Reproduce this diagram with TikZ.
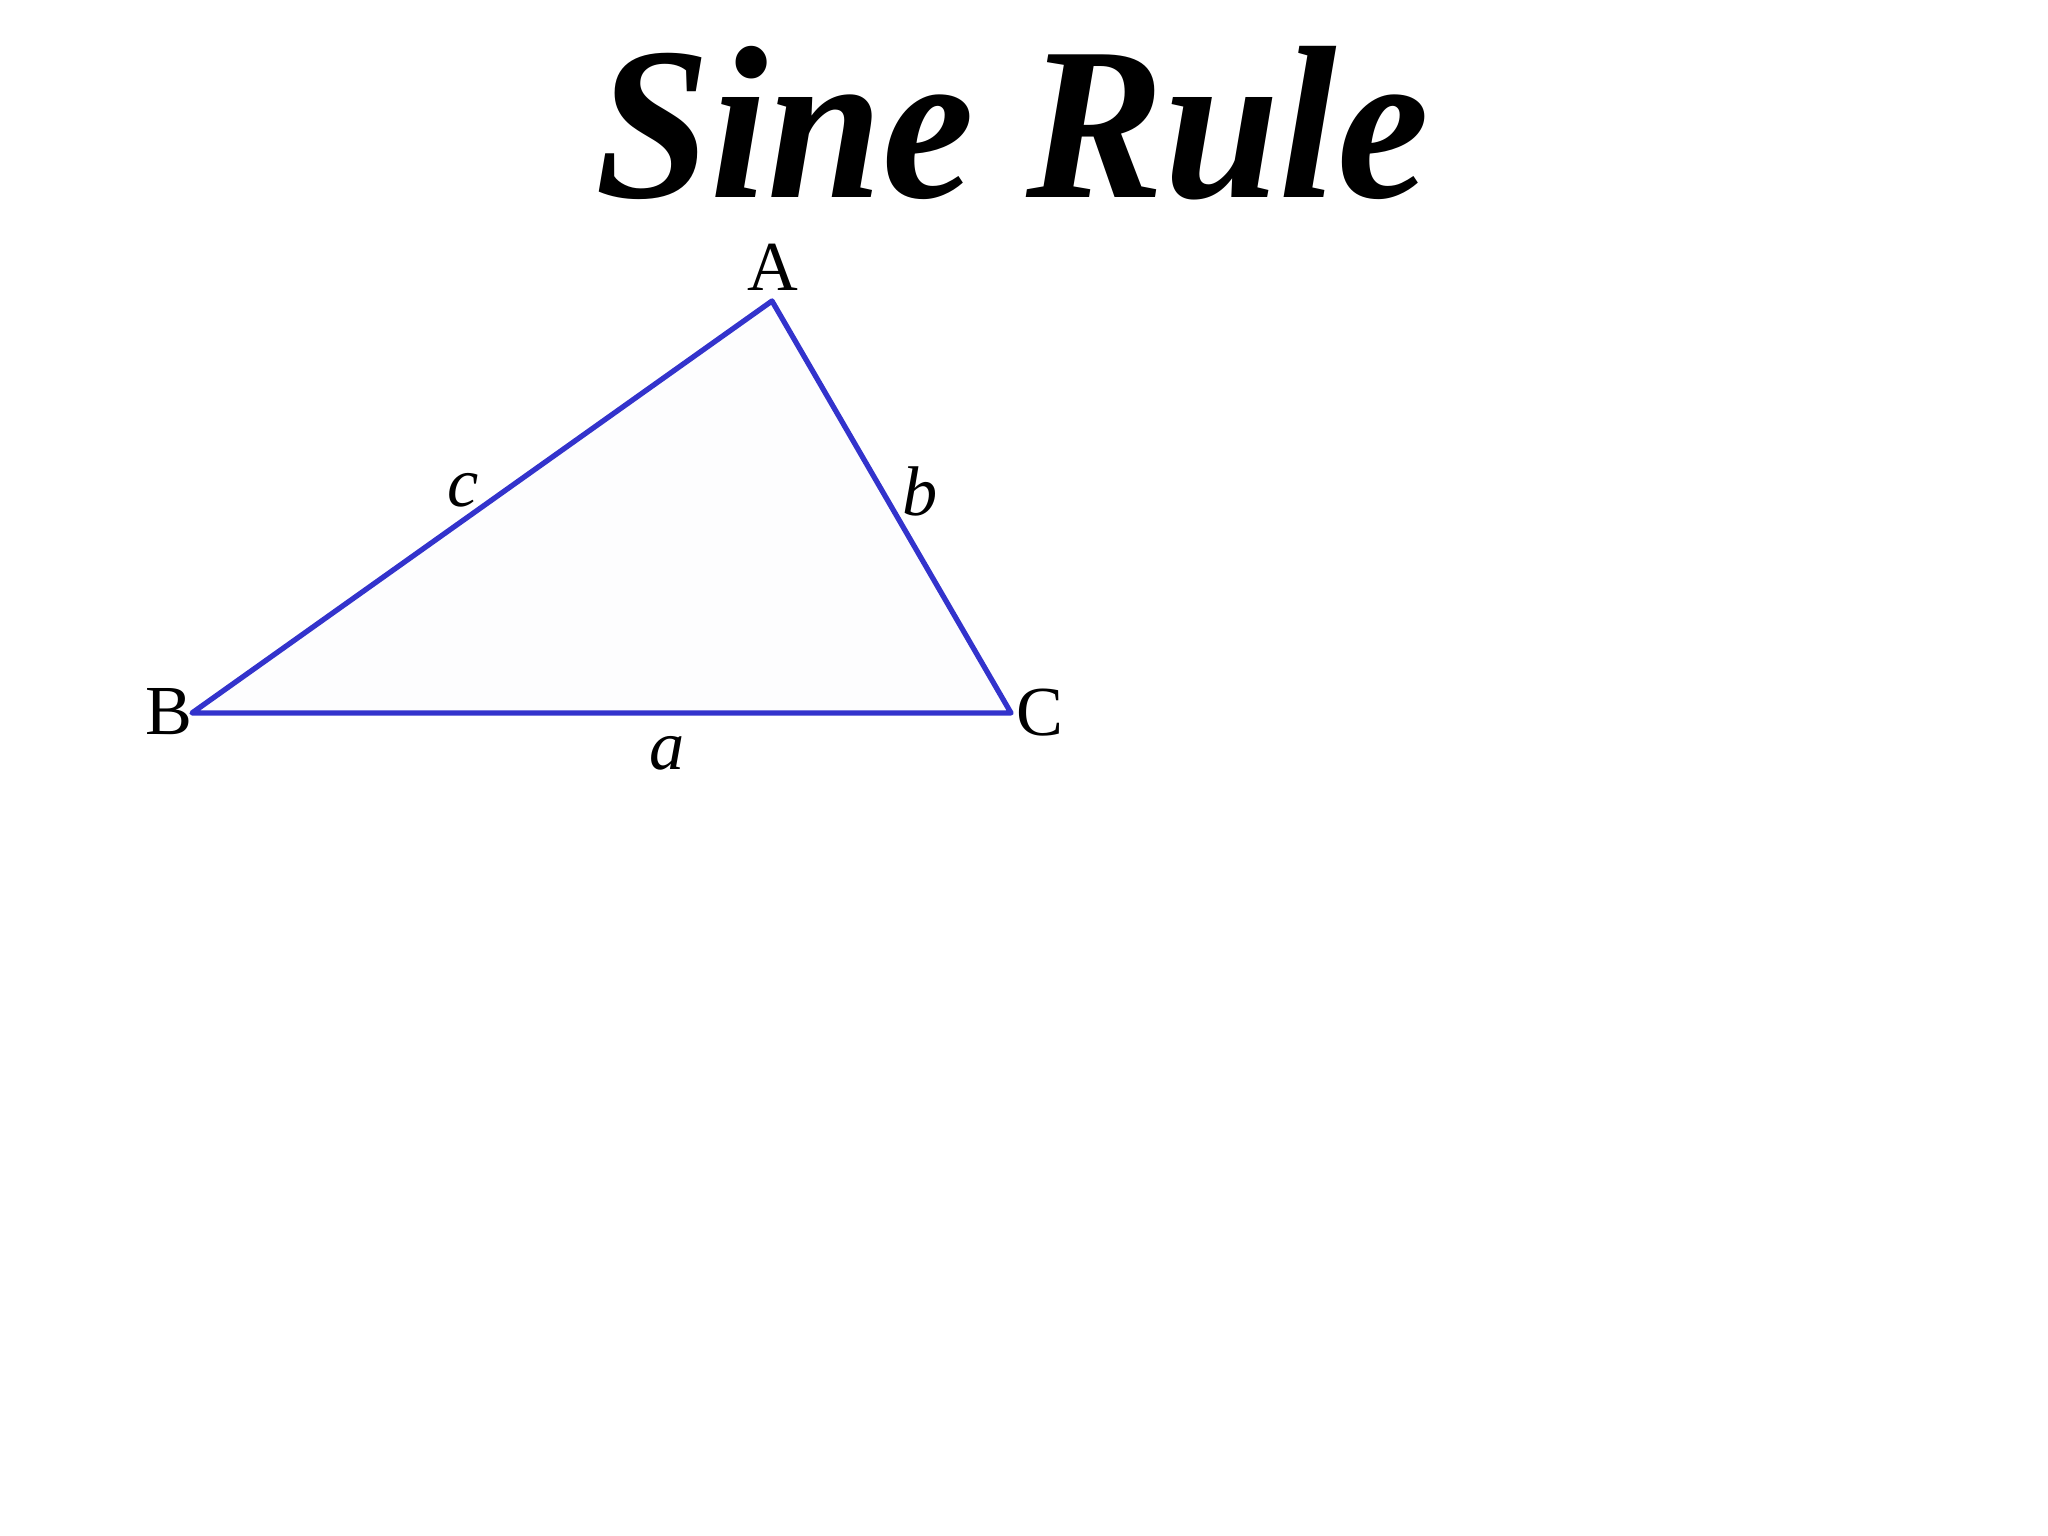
\documentclass[tikz,border=0pt]{standalone}
\usepackage{fontspec}
\setmainfont{Liberation Serif}
\usetikzlibrary{positioning}
\definecolor{edgeblue}{RGB}{51,51,204}
\definecolor{trifill}{RGB}{253,253,254}

\begin{document}
\begin{tikzpicture}[
    vert/.style={inner sep=0pt, font=\fontsize{20}{24}\selectfont},
    side/.style={inner sep=0pt, font=\fontsize{20}{24}\selectfont\itshape},
    tri/.style={draw=edgeblue, line width=1.5pt, line join=round, fill=trifill},
  ]
    \useasboundingbox (0,0) rectangle (20.48,15.36);

    \node[anchor=base, inner sep=0pt, text depth=0pt, xscale=0.95,
        font=\fontsize{62}{72}\selectfont\bfseries\itshape]
        (title) at (10.12,13.38) {Sine Rule};

    % corners
    \coordinate (A) at (7.72,12.35);
    \coordinate (B) at (1.92,8.23);
    \coordinate (C) at (10.11,8.23);
    \draw[tri] (A) -- (B) -- (C) -- cycle;

    \node[vert] (lA) at (7.73,12.69) {A};
    \node[vert] (lB) at (1.69,8.24) {B};
    \node[vert] (lC) at (10.40,8.23) {C};

    % sides
    \node[side] (sc) at (4.63,10.46) {c};
    \node[side] (sb) at (9.20,10.45) {b};
    \node[side] (sa) at (6.67,7.83) {a};
\end{tikzpicture}
\end{document}
